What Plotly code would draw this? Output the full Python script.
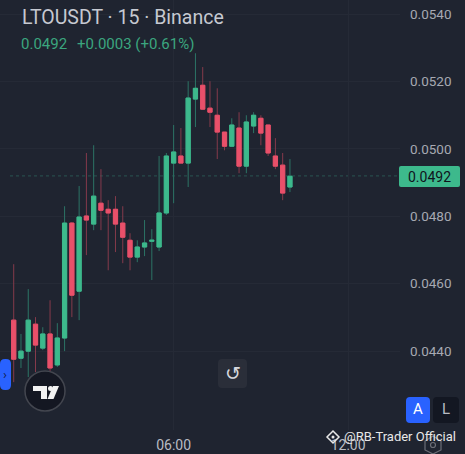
import plotly.graph_objects as go
import pandas as pd

opens = [0.04492,0.04379,0.04400,0.04480,0.04409,0.04451,0.04359,0.04439,0.04780,0.04578,
         0.04801,0.04777,0.04839,0.04821,0.04821,0.04780,0.04729,0.04679,0.04709,0.04726,
         0.04709,0.04810,0.04958,0.04979,0.04958,0.05148,0.05189,0.05121,0.05100,0.05050,
         0.05008,0.05062,0.04949,0.05068,0.05091,0.05071,0.04979,0.04952,0.04887]
highs = [0.04658,0.04451,0.04584,0.04501,0.04471,0.04551,0.04483,0.04830,0.04783,0.04890,
         0.04988,0.05011,0.04940,0.04848,0.04860,0.04830,0.04750,0.04729,0.04789,0.04762,
         0.04979,0.04988,0.05071,0.05062,0.05201,0.05284,0.05243,0.05201,0.05180,0.05050,
         0.05091,0.05109,0.05100,0.05109,0.05100,0.05071,0.05032,0.04988,0.04970]
lows  = [0.04308,0.04350,0.04323,0.04338,0.04403,0.04338,0.04353,0.04400,0.04501,0.04492,
         0.04685,0.04759,0.04759,0.04640,0.04694,0.04661,0.04640,0.04664,0.04682,0.04611,
         0.04697,0.04804,0.04839,0.04958,0.04887,0.05065,0.05118,0.05065,0.04970,0.04996,
         0.05008,0.04928,0.04928,0.05047,0.05011,0.04979,0.04940,0.04848,0.04872]
closes= [0.04376,0.04400,0.04492,0.04418,0.04451,0.04350,0.04439,0.04780,0.04566,0.04798,
         0.04789,0.04860,0.04818,0.04810,0.04777,0.04738,0.04679,0.04709,0.04721,0.04729,
         0.04810,0.04979,0.04991,0.04958,0.05151,0.05180,0.05118,0.05109,0.05050,0.05008,
         0.05071,0.04949,0.05080,0.05100,0.05047,0.04988,0.04949,0.04869,0.04919]
times = pd.date_range("2024-01-01 00:30", periods=len(opens), freq="15min")
price_ticks = [0.0440, 0.0460, 0.0480, 0.0500, 0.0520, 0.0540]
last_price = 0.0492

BG = "#1f2430"; GRID = "#252a36"; TXT = "#a6a9b2"
GREEN = "#3db98c"; RED = "#e9506a"; GREEN_W = "#2c7465"; RED_W = "#853a4b"
PW, PH = 400, 430

def fx(x): return x / PW
def fy(y): return 1 - y / PH

fig = go.Figure()
fig.add_trace(go.Candlestick(
    x=times, open=opens, high=highs, low=lows, close=closes,
    increasing=dict(line=dict(color=GREEN_W, width=1), fillcolor=GREEN_W),
    decreasing=dict(line=dict(color=RED_W, width=1), fillcolor=RED_W),
    whiskerwidth=0, hoverinfo="skip", showlegend=False))
fig.add_trace(go.Candlestick(
    x=times, open=opens, close=closes,
    high=[max(o, c) for o, c in zip(opens, closes)],
    low=[min(o, c) for o, c in zip(opens, closes)],
    increasing=dict(line=dict(color=GREEN, width=1), fillcolor=GREEN),
    decreasing=dict(line=dict(color=RED, width=1), fillcolor=RED),
    whiskerwidth=0, hoverinfo="skip", showlegend=False))

def rrect(x0, y0, x1, y1, r):
    X0, X1 = fx(x0), fx(x1); Y0, Y1 = fy(y0), fy(y1)
    rx, ry = r / PW, r / PH
    return (f"M{X0+rx},{Y0} L{X1-rx},{Y0} Q{X1},{Y0} {X1},{Y0-ry} L{X1},{Y1+ry} Q{X1},{Y1} {X1-rx},{Y1} "
            f"L{X0+rx},{Y1} Q{X0},{Y1} {X0},{Y1+ry} L{X0},{Y0-ry} Q{X0},{Y0} {X0+rx},{Y0} Z")

def poly(pts):
    return "M" + " L".join(f"{fx(a)},{fy(b)}" for a, b in pts) + " Z"

def pshape(path, fill, line=None, lw=0):
    return dict(type="path", xref="paper", yref="paper", path=path, fillcolor=fill,
                line=dict(color=line or fill, width=lw), layer="above")

def circ(cx, cy, r, fill, line, lw=1):
    return dict(type="circle", xref="paper", yref="paper", x0=fx(cx-r), x1=fx(cx+r), y0=fy(cy+r), y1=fy(cy-r),
                fillcolor=fill, line=dict(color=line, width=lw), layer="above")

shapes = [
    dict(type="line", xref="paper", yref="y", x0=fx(10), x1=1, y0=last_price, y1=last_price,
         line=dict(color="#2a5551", width=1, dash="dot"), layer="below"),
    pshape(rrect(399, 166, 460, 187, 2), GREEN),
    pshape(rrect(0, 359, 11, 390, 5), "#2962ff"),
    circ(45, 391, 20, "#141722", "#43464f", 1.5),
    pshape(poly([(33, 386), (47, 386), (47, 399), (41, 399), (41, 391), (33, 391)]), "#f2f2f2"),
    circ(50.5, 388.5, 2.5, "#f2f2f2", "#f2f2f2", 0),
    pshape(poly([(53, 386), (59, 386), (53.5, 399), (47.5, 399)]), "#f2f2f2"),
    pshape(rrect(218, 359, 247, 388, 4), "#2a2e39"),
    pshape(rrect(406, 397, 430, 423, 4), "#2962ff"),
    pshape(rrect(433, 397, 459, 423, 4), "#131722"),
    pshape(poly([(433, 436), (441, 441), (441, 450), (433, 454), (425, 450), (425, 441)]), "rgba(0,0,0,0)", "#6b6e77", 1.2),
    circ(433, 445, 2.5, "rgba(0,0,0,0)", "#6b6e77", 1.2),
    pshape(poly([(333, 431), (339, 437), (333, 443), (327, 437)]), "rgba(0,0,0,0)", "#e8e8e8", 1.5),
    circ(333, 437, 1.5, "#e8e8e8", "#e8e8e8", 0),
]

def note(x, y, text, size, color, anchor="left", family="Roboto"):
    return dict(xref="paper", yref="paper", x=fx(x), y=fy(y), text=text, showarrow=False,
                xanchor=anchor, yanchor="middle", align=anchor, borderpad=0,
                font=dict(size=size, color=color, family=family))

annots = [
    note(21, 18, "LTOUSDT · 15 · Binance", 19.5, "#c6c9d1"),
    note(20, 44, "0.0492", 15, "#3ba67f"),
    note(76, 44, "+0.0003 (+0.61%)", 15, "#3ba67f"),
    note(429.5, 176.5, "0.0492", 14, "#10141c", "center"),
    note(5, 374, "›", 13, "#12204a", "center"),
    note(232.5, 373, "↺", 19, "#d6d8dd", "center", "DejaVu Sans"),
    note(418, 409, "A", 15, "#ffffff", "center"),
    note(446, 409, "L", 15, "#b8bbc3", "center"),
    note(343, 437, "@RB-Trader Official", 13, "#e8e8e8", "left"),
]

fig.update_layout(
    width=465, height=454, autosize=False,
    margin=dict(l=0, r=65, t=0, b=24),
    paper_bgcolor=BG, plot_bgcolor=BG,
    boxgap=0.17, showlegend=False, dragmode=False,
    shapes=shapes, annotations=annots,
    xaxis=dict(type="date", rangeslider=dict(visible=False),
               range=["2024-01-01 00:01:43", "2024-01-01 13:47:06"],
               dtick=21600000, tick0="2024-01-01 00:00", tickformat="%H:%M",
               showgrid=True, gridcolor=GRID, gridwidth=1, zeroline=False, showline=False,
               ticks="", ticklabelstandoff=5, tickfont=dict(family="Roboto", size=14, color="#b9bcc4")),
    yaxis=dict(side="right", range=[0.04166, 0.05442], tickvals=price_ticks, tickformat=".4f",
               showgrid=True, gridcolor=GRID, gridwidth=1, zeroline=False, showline=False,
               ticks="", ticklabelstandoff=9, tickfont=dict(family="Roboto", size=13.5, color=TXT)),
)

fig.write_html("out.html", config=dict(displayModeBar=False, staticPlot=True),
               post_script="document.body.style.margin='0';document.body.style.background='%s';" % BG)
